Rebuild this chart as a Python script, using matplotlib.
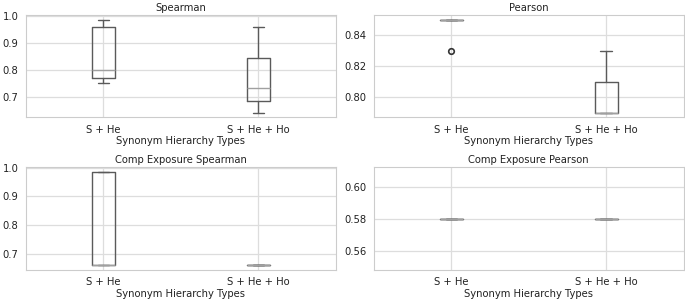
import numpy as np
import matplotlib
matplotlib.use("Agg")
import matplotlib.pyplot as plt
import seaborn as sns

sns.set_style("whitegrid")

groups = ["S + He", "S + He + Ho"]

spearman_she = [0.75, 0.77, 0.80, 0.96, 0.985]
spearman_sheho = [0.64, 0.685, 0.73, 0.845, 0.96]
pearson_she = [0.83, 0.85, 0.85, 0.85, 0.85]
pearson_sheho = [0.79, 0.79, 0.79, 0.81, 0.83]
comp_spearman_she = [0.66, 0.66, 0.66, 0.985, 0.985]
comp_spearman_sheho = [0.66, 0.66, 0.66, 0.66, 0.66]
comp_pearson_she = [0.58, 0.58, 0.58, 0.58, 0.58]
comp_pearson_sheho = [0.58, 0.58, 0.58, 0.58, 0.58]

panels = [
    ("Spearman", [spearman_she, spearman_sheho]),
    ("Pearson", [pearson_she, pearson_sheho]),
    ("Comp Exposure Spearman", [comp_spearman_she, comp_spearman_sheho]),
    ("Comp Exposure Pearson", [comp_pearson_she, comp_pearson_sheho]),
]

box_col = "#5a5a5a"
med_col = "#a0a0a0"

fig, axes = plt.subplots(2, 2, figsize=(6.85, 3.03), dpi=100)
plt.subplots_adjust(left=0.038, right=0.998, top=0.95, bottom=0.11,
                    wspace=0.123, hspace=0.49)

for ax, (title, data) in zip(axes.flat, panels):
    ax.boxplot(data, widths=0.15,
               boxprops=dict(color=box_col, linewidth=1.0),
               whiskerprops=dict(color=box_col, linewidth=1.0),
               capprops=dict(color=box_col, linewidth=1.0),
               medianprops=dict(color=med_col, linewidth=1.0),
               flierprops=dict(marker="o", markersize=4, markerfacecolor="none",
                               markeredgecolor="#333333", markeredgewidth=1.2))
    ax.set_xticks([1, 2])
    ax.set_xticklabels(groups)
    ax.set_title(title, fontsize=7.2, pad=3, color="#222222")
    ax.set_xlabel("Synonym Hierarchy Types", fontsize=7.2, labelpad=1, color="#222222")
    ax.tick_params(labelsize=7.2, pad=2, labelcolor="#222222")
    ax.grid(True, color="#dddddd", linewidth=0.9)
    for s in ax.spines.values():
        s.set_color("#cccccc")

axes[0, 1].set_yticks([0.80, 0.82, 0.84])
axes[1, 1].set_yticks([0.56, 0.58, 0.60])

fig.savefig("out.png", dpi=100)
